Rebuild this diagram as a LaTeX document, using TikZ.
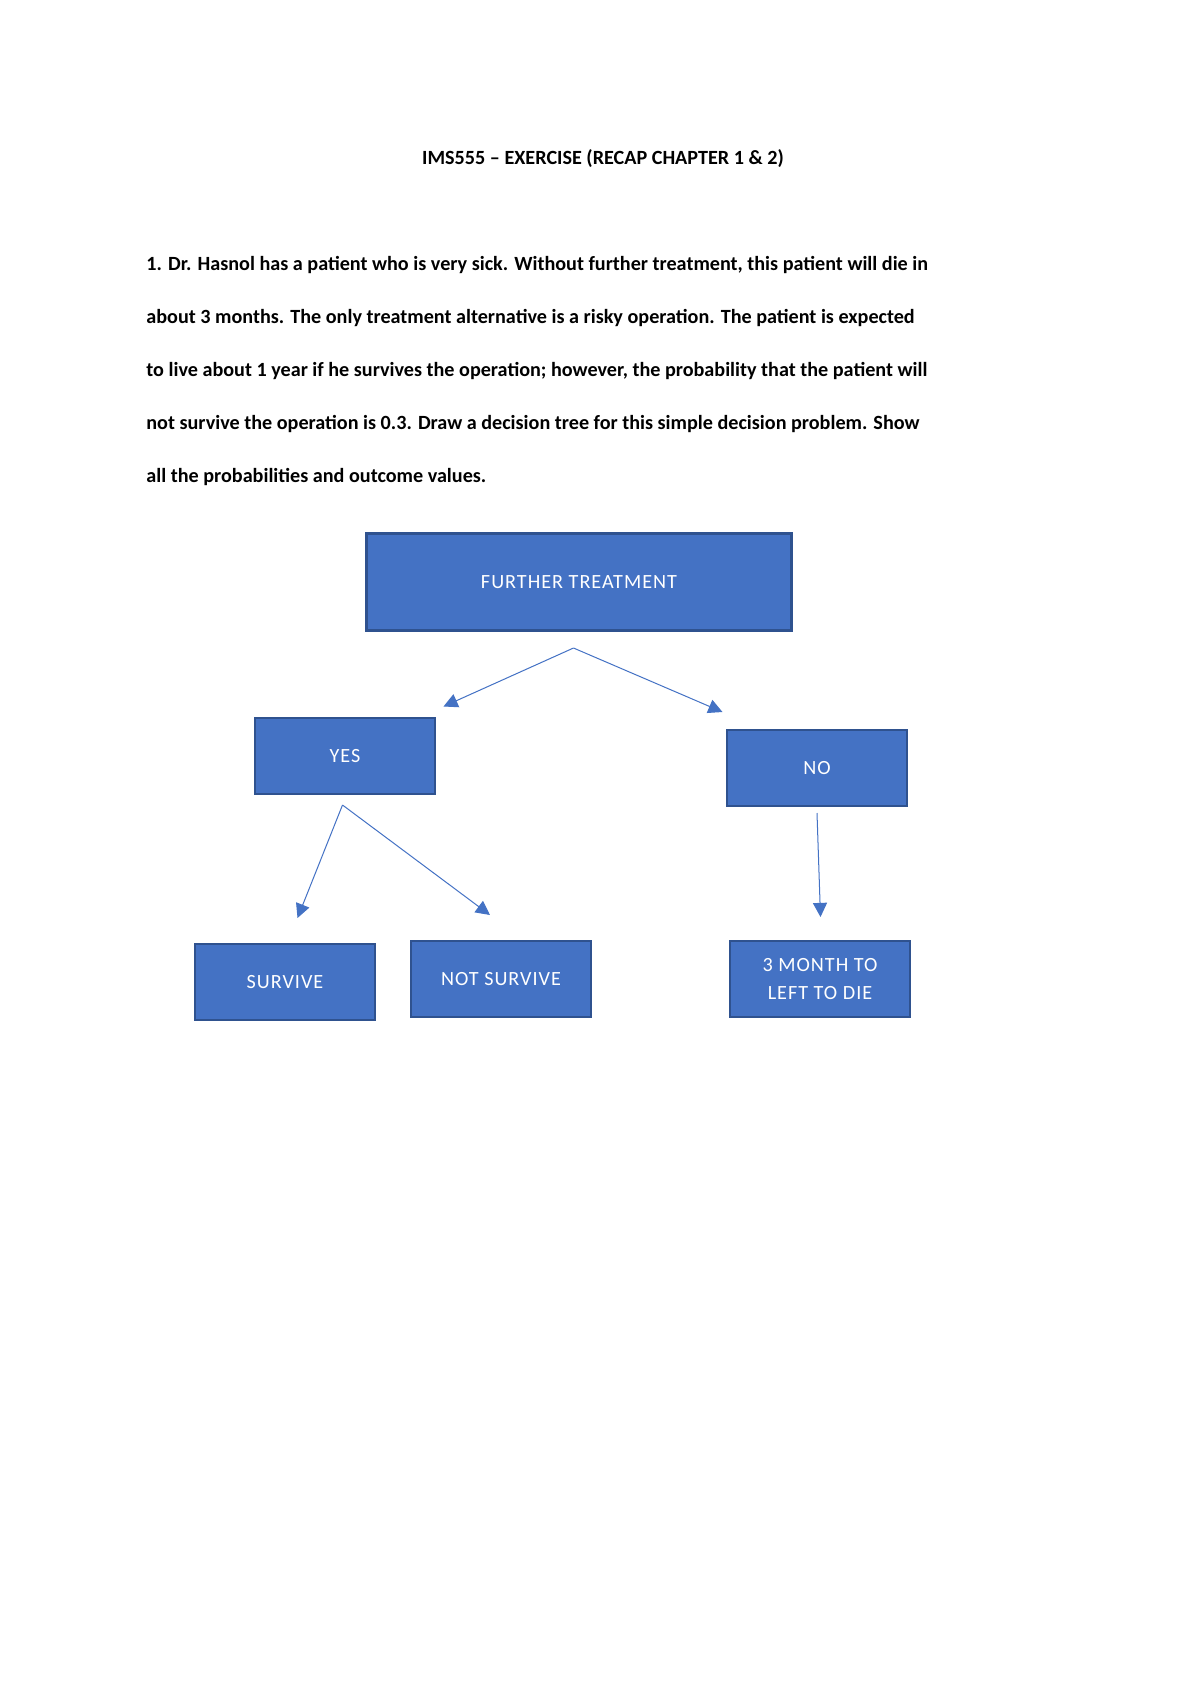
\documentclass[tikz,border=0pt]{standalone}
\usepackage{fontspec}
\setmainfont{Carlito}
\newfontfamily\boxfont[LetterSpace=5]{Carlito}
\usetikzlibrary{arrows.meta,positioning}
\definecolor{boxblue}{HTML}{4472C4}
\definecolor{boxedge}{HTML}{2F528F}
\tikzset{
  decision/.style={draw=boxedge, line width=1.2pt, fill=boxblue, text=white,
    font=\boxfont\fontsize{10}{13.5}\selectfont, align=center,
    minimum width=89.5pt, minimum height=37.7pt, inner sep=0pt},
  branch/.style={draw=boxblue, line width=0.5pt, -{Triangle[length=7pt,width=7pt]}}
}

\begin{document}
\begin{tikzpicture}[x=0.49607pt,y=-0.49607pt]
\useasboundingbox (0,0) rectangle (1200,1698);
% heading and question
\node[font=\bfseries\fontsize{10}{12}\selectfont] (title) at (603,159)
  {IMS555 -- EXERCISE (RECAP CHAPTER 1 \& 2)};
\node[anchor=north west, inner sep=0pt, align=left,
  font=\bfseries\fontsize{10}{26.3}\selectfont] (question) at (146,256)
  {1. Dr. Hasnol has a patient who is very sick. Without further treatment, this patient will die in\\
   about 3 months. The only treatment alternative is a risky operation. The patient is expected\\
   to live about 1 year if he survives the operation; however, the probability that the patient will\\
   not survive the operation is 0.3. Draw a decision tree for this simple decision problem. Show\\
   all the probabilities and outcome values.};
% boxes
\node[decision, minimum width=211pt, minimum height=48pt] (treat) at (579,582) {FURTHER TREATMENT};
\node[decision] (yes) at (345,756) {YES};
\node[decision] (no) at (817,768) {NO};
\node[decision] (survive) at (285,982) {SURVIVE};
\node[decision] (notsurvive) at (501,979) {NOT SURVIVE};
\node[decision] (month) at (820,979) {3 MONTH TO\\LEFT TO DIE};
% arrow ends
\coordinate (treatfoot) at (573.5,648);
\coordinate (yeshead) at (443.5,706.5);
\coordinate (nohead) at (722.5,712);
\coordinate (yesfoot) at (342.5,805);
\coordinate (survivehead) at (297.5,918);
\coordinate (notsurvivehead) at (490,915);
\coordinate (nofoot) at (817,813);
\coordinate (monthhead) at (820.5,917);
\draw[branch] (treatfoot) -- (yeshead);
\draw[branch] (treatfoot) -- (nohead);
\draw[branch] (yesfoot) -- (survivehead);
\draw[branch] (yesfoot) -- (notsurvivehead);
\draw[branch] (nofoot) -- (monthhead);
\end{tikzpicture}
\end{document}
